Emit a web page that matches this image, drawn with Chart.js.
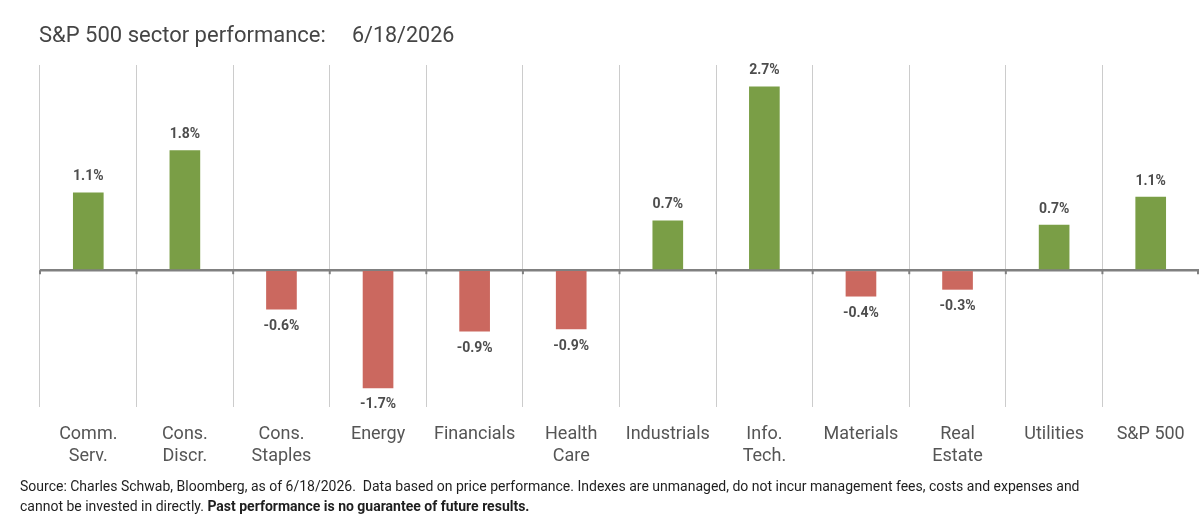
<!DOCTYPE html>
<html>
<head>
<meta charset="utf-8">
<script src="https://cdn.jsdelivr.net/npm/chart.js@4.4.1/dist/chart.umd.min.js"></script>
<style>
  html, body { margin: 0; padding: 0; background: #fff; }
  #wrap { position: relative; width: 1199px; height: 524px; overflow: hidden; font-family: Roboto, "Noto Sans", sans-serif; }
  #title { position: absolute; left: 39px; top: 22px; font-size: 22px; color: #454545; white-space: nowrap; }
  #title .date { position: absolute; left: 313px; top: 0; font-size: 21.5px; }
  #chartbox { position: absolute; left: 0; top: 0; width: 1199px; height: 524px; }
  #footer { position: absolute; left: 20px; top: 476px; font-size: 14px; line-height: 20px; color: #1e1e1e; white-space: nowrap; }
  #footer b { font-weight: 700; }
</style>
</head>
<body>
<div id="wrap">
  <div id="chartbox"><canvas id="c" width="1199" height="524"></canvas></div>
  <div id="title">S&amp;P 500 sector performance:<span class="date">6/18/2026</span></div>
  <div id="footer">Source: Charles Schwab, Bloomberg, as of 6/18/2026.&nbsp; Data based on price performance. Indexes are unmanaged, do not incur management fees, costs and expenses and<br>cannot be invested in directly. <b>Past performance is no guarantee of future results.</b></div>
</div>
<script>
const categories = [
  ["Comm.", "Serv."], ["Cons.", "Discr."], ["Cons.", "Staples"], ["Energy"], ["Financials"],
  ["Health", "Care"], ["Industrials"], ["Info.", "Tech."], ["Materials"], ["Real", "Estate"],
  ["Utilities"], ["S&P 500"]
];
const performance = [1.13, 1.75, -0.57, -1.72, -0.89, -0.86, 0.72, 2.68, -0.38, -0.28, 0.66, 1.07];
const valueLabels = ["1.1%", "1.8%", "-0.6%", "-1.7%", "-0.9%", "-0.9%", "0.7%", "2.7%", "-0.4%", "-0.3%", "0.7%", "1.1%"];
const yMin = -2;
const yMax = 3;

const GREEN = '#7a9e46';
const RED = '#cb685f';

const labelPlugin = {
  id: 'valueLabels',
  afterDatasetsDraw(chart) {
    const ctx = chart.ctx;
    const meta = chart.getDatasetMeta(0);
    ctx.save();
    ctx.font = 'bold 14px Roboto, "Noto Sans", sans-serif';
    ctx.fillStyle = '#4d4d4d';
    ctx.textAlign = 'center';
    ctx.textBaseline = 'middle';
    meta.data.forEach((bar, i) => {
      const v = performance[i];
      const y = v >= 0 ? bar.y - 16 : bar.y + 17;
      ctx.fillText(valueLabels[i], bar.x, y);
    });
    // small tick marks below zero line
    const xs = chart.scales.x;
    const y0 = chart.scales.y.getPixelForValue(0);
    const step = xs.getPixelForValue(1) - xs.getPixelForValue(0);
    ctx.strokeStyle = '#808080';
    ctx.lineWidth = 2;
    for (let i = 0; i <= categories.length; i++) {
      let x;
      if (i < categories.length) x = xs.getPixelForValue(i) - step / 2;
      else x = xs.getPixelForValue(i - 1) + step / 2 - 1;
      ctx.beginPath();
      ctx.moveTo(x, y0);
      ctx.lineTo(x, y0 + 4);
      ctx.stroke();
    }
    ctx.restore();
  }
};

new Chart(document.getElementById('c'), {
  type: 'bar',
  data: {
    labels: categories,
    datasets: [{
      data: performance,
      backgroundColor: performance.map(v => v >= 0 ? GREEN : RED),
      borderWidth: 0,
      barThickness: 30,
      categoryPercentage: 1,
      barPercentage: 1
    }]
  },
  options: {
    responsive: false,
    animation: false,
    devicePixelRatio: 1,
    layout: { padding: { top: 65, left: 40, right: 0, bottom: 0 } },
    plugins: { legend: { display: false }, tooltip: { enabled: false }, title: { display: false } },
    scales: {
      x: {
        offset: true,
        grid: { display: true, offset: true, color: '#cccccc', lineWidth: 1, drawTicks: false },
        border: { display: false },
        ticks: {
          color: '#555555',
          font: { family: 'Roboto, "Noto Sans", sans-serif', size: 18, lineHeight: 1.25 },
          padding: 16,
          maxRotation: 0,
          autoSkip: false
        },
        afterFit(scale) { scale.height = 117; scale.paddingLeft = 0; scale.paddingRight = 0; }
      },
      y: {
        min: yMin,
        max: yMax,
        ticks: { display: false, stepSize: 1 },
        border: { display: false },
        grid: {
          drawTicks: false,
          color: c => c.tick && c.tick.value === 0 ? '#808080' : 'rgba(0,0,0,0)',
          lineWidth: c => c.tick && c.tick.value === 0 ? 2.5 : 0
        },
        afterFit(scale) { scale.width = 0; }
      }
    }
  },
  plugins: [labelPlugin]
});
</script>
</body>
</html>
